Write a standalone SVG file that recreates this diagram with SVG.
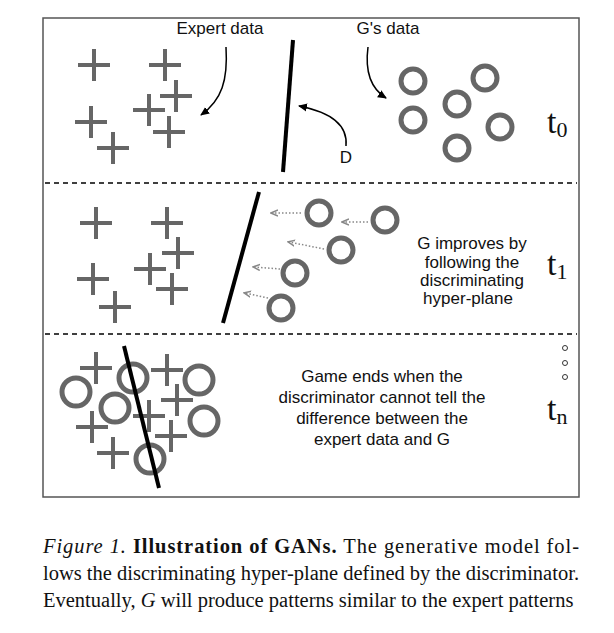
<svg xmlns="http://www.w3.org/2000/svg" width="614" height="633" viewBox="0 0 614 633">
<style>
.p{stroke:#666;stroke-width:4;fill:none}
.c{stroke:#666;stroke-width:5;fill:none}
.s{font-family:"Liberation Sans",Arial,sans-serif;font-size:17px;fill:#111}
.t{font-family:"Liberation Serif","Times New Roman",serif;fill:#111}
.d{stroke:#888;stroke-width:1.5;stroke-dasharray:1.5 2;fill:none}
</style>
<defs>
<path id="plus" d="M-16 0H16M0 -16V16" class="p"/>
<marker id="ah" markerWidth="10" markerHeight="10" refX="8" refY="5" orient="auto" markerUnits="userSpaceOnUse"><path d="M0 1L9 5L0 9Z" fill="#000"/></marker>
<marker id="ag" markerWidth="8" markerHeight="8" refX="6" refY="4" orient="auto" markerUnits="userSpaceOnUse"><path d="M0 1L7 4L0 7" fill="none" stroke="#888" stroke-width="1.5"/></marker>
</defs>
<rect x="43" y="18" width="536" height="479" fill="#fff" stroke="#555" stroke-width="1.5"/>
<g stroke="#000" stroke-width="1.5" stroke-dasharray="5 4">
<line x1="45" y1="183" x2="577" y2="183"/><line x1="45" y1="334" x2="577" y2="334"/>
</g>
<g id="panel0">
<use href="#plus" x="94" y="65"/><use href="#plus" x="165" y="65"/><use href="#plus" x="176" y="96"/><use href="#plus" x="149" y="110"/><use href="#plus" x="91" y="122"/><use href="#plus" x="113" y="148"/><use href="#plus" x="169" y="132"/>
<circle class="c" cx="413" cy="81" r="12"/><circle class="c" cx="485" cy="78" r="12"/><circle class="c" cx="457" cy="104" r="12"/><circle class="c" cx="413" cy="120" r="12"/><circle class="c" cx="500" cy="127" r="12"/><circle class="c" cx="457" cy="148" r="12"/>
<line x1="293" y1="40" x2="283" y2="172" stroke="#000" stroke-width="4"/>
<text class="s" x="220" y="34" text-anchor="middle">Expert data</text>
<text class="s" x="388" y="34" text-anchor="middle">G's data</text>
<text class="s" x="346" y="163" text-anchor="middle">D</text>
<text class="t" x="547" y="133" font-size="34">t<tspan font-size="22" dy="4">0</tspan></text>
</g>
<g id="panel1">
<use href="#plus" x="96" y="223"/><use href="#plus" x="167" y="223"/><use href="#plus" x="178" y="253"/><use href="#plus" x="150" y="269"/><use href="#plus" x="93" y="279"/><use href="#plus" x="115" y="307"/><use href="#plus" x="172" y="289"/>
<circle class="c" cx="319" cy="213" r="12"/><circle class="c" cx="385" cy="220" r="12"/><circle class="c" cx="341" cy="250" r="12"/><circle class="c" cx="295" cy="273" r="12"/><circle class="c" cx="281" cy="308" r="12"/>
<line x1="259" y1="192" x2="223" y2="323" stroke="#000" stroke-width="4"/>
<g class="s" text-anchor="middle" font-size="16"><text x="472" y="249">G improves by</text><text x="472" y="268">following the</text><text x="472" y="286">discriminating</text><text x="468" y="304">hyper-plane</text></g>
<text class="t" x="547" y="275" font-size="34">t<tspan font-size="22" dy="4">1</tspan></text>
</g>
<g id="panel2">
<use href="#plus" x="96" y="368"/><use href="#plus" x="167" y="370"/><use href="#plus" x="177" y="400"/><use href="#plus" x="149" y="416"/><use href="#plus" x="92" y="427"/><use href="#plus" x="113" y="453"/><use href="#plus" x="171" y="436"/>
<circle class="c" cx="76" cy="392" r="14"/><circle class="c" cx="133" cy="378" r="14"/><circle class="c" cx="199" cy="380" r="14"/><circle class="c" cx="115" cy="408" r="14"/><circle class="c" cx="204" cy="421" r="14"/><circle class="c" cx="150" cy="459" r="14"/>
<line x1="124" y1="346" x2="159" y2="488" stroke="#000" stroke-width="4"/>
<g class="s" text-anchor="middle" font-size="18.5"><text x="382" y="382">Game ends when the</text><text x="382" y="403">discriminator cannot tell the</text><text x="382" y="424">difference between the</text><text x="382" y="445">expert data and G</text></g>
<g fill="none" stroke="#333" stroke-width="1"><circle cx="565" cy="348" r="2.5"/><circle cx="565" cy="363" r="2.5"/><circle cx="565" cy="377" r="2.5"/></g>
<text class="t" x="547" y="420" font-size="34">t<tspan font-size="22" dy="4">n</tspan></text>
</g>
<g id="connectors">
<path d="M226 47C228 80 222 100 201 115" fill="none" stroke="#000" stroke-width="1.5" marker-end="url(#ah)"/>
<path d="M368 47C365 70 370 88 386 98" fill="none" stroke="#000" stroke-width="1.5" marker-end="url(#ah)"/>
<path d="M346 146C348 125 330 112 299 106" fill="none" stroke="#000" stroke-width="1.5" marker-end="url(#ah)"/>
<line class="d" x1="301" y1="213" x2="272" y2="213" marker-end="url(#ag)"/>
<line class="d" x1="368" y1="222" x2="343" y2="222" marker-end="url(#ag)"/>
<line class="d" x1="324" y1="249" x2="289" y2="242" marker-end="url(#ag)"/>
<line class="d" x1="280" y1="269" x2="254" y2="267" marker-end="url(#ag)"/>
<line class="d" x1="268" y1="298" x2="245" y2="293" marker-end="url(#ag)"/>
</g>
<g class="t" font-size="20.5">
<text x="43" y="553" textLength="536" lengthAdjust="spacing"><tspan font-style="italic">Figure 1.</tspan> <tspan font-weight="bold">Illustration of GANs.</tspan>   The generative model fol-</text>
<text x="43" y="580" textLength="536" lengthAdjust="spacing">lows the discriminating hyper-plane defined by the discriminator.</text>
<text x="43" y="607">Eventually, <tspan font-style="italic">G</tspan> will produce patterns similar to the expert patterns</text>
</g>
</svg>
